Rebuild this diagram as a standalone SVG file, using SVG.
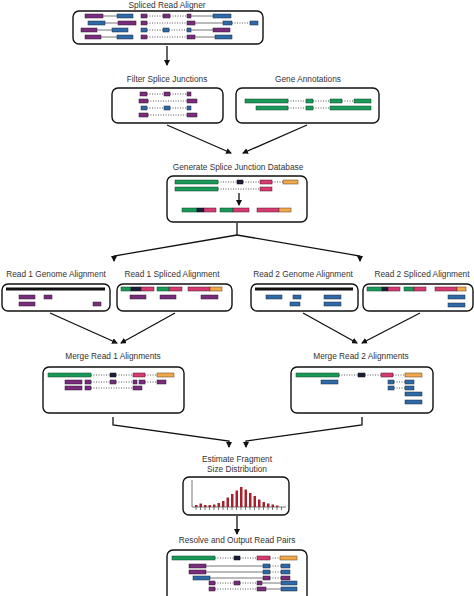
<svg xmlns="http://www.w3.org/2000/svg" width="474" height="596" viewBox="0 0 474 596">
<defs>
<marker id="ah" markerWidth="6" markerHeight="6" refX="5" refY="3" orient="auto" markerUnits="userSpaceOnUse"><path d="M0,0 L6,3 L0,6 z" fill="#111"/></marker>
<style>
text{font-family:"Liberation Sans",Arial,sans-serif;font-size:8.3px;fill:#333;text-anchor:middle}
.box{fill:#fff;stroke:#111;stroke-width:1.4}
.p{fill:#7b2c7f;stroke:#2a1a2a;stroke-width:0.5}
.b{fill:#2f6aa8;stroke:#1a2a3a;stroke-width:0.5}
.g{fill:#199a57;stroke:#14402a;stroke-width:0.5}
.k{fill:#d83a72;stroke:#4a1a2a;stroke-width:0.5}
.o{fill:#f0aa4c;stroke:#5a3a1a;stroke-width:0.5}
.n{fill:#1b1e3c;stroke:#111;stroke-width:0.5}
.ln{stroke:#777;stroke-width:1;fill:none}
.dt{stroke:#555;stroke-width:1;stroke-dasharray:1 1.5;fill:none}
.c{stroke:#111;stroke-width:1.3;fill:none}
.ca{stroke:#111;stroke-width:1.3;fill:none;marker-end:url(#ah)}
.bar{fill:#a8202e}
.ax{stroke:#555;stroke-width:0.8;fill:none}
</style>
</defs>

<g id="connectors">
<line class="ca" x1="167" y1="46" x2="167" y2="65"/>
<line class="ca" x1="167" y1="125" x2="231" y2="153"/>
<line class="ca" x1="307" y1="125" x2="243" y2="153"/>
<polyline class="c" points="237,223 237,235"/>
<polyline class="ca" points="237,235 114,256 114,261"/>
<polyline class="ca" points="237,235 360,256 360,261"/>
<line class="ca" x1="50" y1="313" x2="117" y2="343"/>
<line class="ca" x1="175" y1="313" x2="121" y2="343"/>
<line class="ca" x1="303" y1="313" x2="357" y2="343"/>
<line class="ca" x1="420" y1="313" x2="362" y2="343"/>
<polyline class="ca" points="113,417 113,425 229,441 229,447"/>
<polyline class="ca" points="362,417 362,425 246,441 246,447"/>
<line class="ca" x1="237" y1="516" x2="237" y2="534"/>
</g>

<g id="aligner">
<text x="167" y="8">Spliced Read Aligner</text>
<rect class="box" x="73" y="11" width="190" height="33" rx="6"/>
<path class="ln" d="M103,16H117M191,16H213M105,23H118M195,23H223M97,30H112M191,30H213M101,37H117M195,37H215"/>
<path class="dt" d="M147,16H163M170,16H187M147,23H187M232,23H250M147,30H163M169,30H187M147,37H187"/>
<rect class="p" x="85" y="14" width="18" height="4"/><rect class="b" x="117" y="14" width="16" height="4"/><rect class="p" x="141" y="14" width="6" height="4"/><rect class="p" x="163" y="14" width="7" height="4"/><rect class="p" x="187" y="14" width="4" height="4"/><rect class="b" x="213" y="14" width="18" height="4"/>
<rect class="b" x="88" y="21" width="17" height="4"/><rect class="p" x="118" y="21" width="18" height="4"/><rect class="p" x="141" y="21" width="6" height="4"/><rect class="p" x="187" y="21" width="8" height="4"/><rect class="b" x="223" y="21" width="9" height="4"/><rect class="b" x="250" y="21" width="8" height="4"/>
<rect class="p" x="81" y="28" width="16" height="4"/><rect class="b" x="112" y="28" width="16" height="4"/><rect class="b" x="141" y="28" width="6" height="4"/><rect class="b" x="163" y="28" width="6" height="4"/><rect class="b" x="187" y="28" width="4" height="4"/><rect class="p" x="213" y="28" width="17" height="4"/>
<rect class="p" x="85" y="35" width="16" height="4"/><rect class="b" x="117" y="35" width="16" height="4"/><rect class="p" x="141" y="35" width="6" height="4"/><rect class="p" x="187" y="35" width="8" height="4"/><rect class="b" x="215" y="35" width="17" height="4"/>
</g>

<g id="filter">
<text x="167" y="82">Filter Splice Junctions</text>
<rect class="box" x="112" y="88" width="111" height="35" rx="6"/>
<path class="dt" d="M147,94H164M170,94H187M148,101H187M147,108H164M170,108H187M148,115H187"/>
<rect class="p" x="140" y="92" width="7" height="4"/><rect class="p" x="164" y="92" width="6" height="4"/><rect class="p" x="187" y="92" width="4" height="4"/>
<rect class="p" x="139" y="99" width="9" height="4"/><rect class="p" x="187" y="99" width="10" height="4"/>
<rect class="b" x="141" y="106" width="6" height="4"/><rect class="b" x="164" y="106" width="6" height="4"/><rect class="b" x="187" y="106" width="4" height="4"/>
<rect class="p" x="139" y="113" width="9" height="4"/><rect class="p" x="187" y="113" width="10" height="4"/>
</g>

<g id="annotations">
<text x="308" y="82">Gene Annotations</text>
<rect class="box" x="236" y="88" width="143" height="35" rx="6"/>
<path class="dt" d="M288,101H306M313,101H330M342,101H354M288,108H306M313,108H330"/>
<rect class="g" x="245" y="99" width="43" height="4"/><rect class="g" x="306" y="99" width="7" height="4"/><rect class="g" x="330" y="99" width="12" height="4"/><rect class="g" x="354" y="99" width="17" height="4"/>
<rect class="g" x="256" y="106" width="32" height="4"/><rect class="g" x="306" y="106" width="7" height="4"/><rect class="g" x="330" y="106" width="41" height="4"/>
</g>

<g id="database">
<text x="238" y="170">Generate Splice Junction Database</text>
<rect class="box" x="167" y="176" width="140" height="46" rx="6"/>
<path class="dt" d="M218,182H237M243,182H260M272,182H283M218,189H260"/>
<rect class="g" x="175" y="180" width="43" height="4"/><rect class="n" x="237" y="180" width="6" height="4"/><rect class="k" x="260" y="180" width="12" height="4"/><rect class="o" x="283" y="180" width="15" height="4"/>
<rect class="g" x="175" y="187" width="43" height="4"/><rect class="k" x="260" y="187" width="12" height="4"/>
<line class="ca" x1="239" y1="193" x2="239" y2="205"/>
<rect class="g" x="182" y="208" width="15" height="4"/><rect class="n" x="197" y="208" width="7" height="4"/><rect class="k" x="204" y="208" width="12" height="4"/>
<rect class="g" x="220" y="208" width="13" height="4"/><rect class="k" x="233" y="208" width="16" height="4"/>
<rect class="k" x="257" y="208" width="22" height="4"/><rect class="o" x="279" y="208" width="12" height="4"/>
</g>

<g id="r1genome">
<text x="56" y="277">Read 1 Genome Alignment</text>
<rect class="box" x="2" y="284" width="108" height="27" rx="6"/>
<rect x="6" y="287.5" width="99" height="3" fill="#111"/>
<rect class="p" x="19" y="295" width="16" height="4"/><rect class="p" x="44" y="295" width="8" height="4"/>
<rect class="p" x="19" y="302" width="16" height="4"/><rect class="p" x="93" y="302" width="8" height="4"/>
</g>

<g id="r1spliced">
<text x="172" y="277">Read 1 Spliced Alignment</text>
<rect class="box" x="117" y="284" width="115" height="27" rx="6"/>
<rect class="g" x="121" y="287" width="10" height="4"/><rect class="n" x="131" y="287" width="10" height="4"/><rect class="k" x="141" y="287" width="13" height="4"/>
<rect class="g" x="157" y="287" width="12" height="4"/><rect class="k" x="169" y="287" width="13" height="4"/>
<rect class="k" x="188" y="287" width="22" height="4"/><rect class="o" x="210" y="287" width="12" height="4"/>
<rect class="p" x="130" y="295" width="16" height="4"/><rect class="p" x="160" y="295" width="16" height="4"/><rect class="p" x="201" y="295" width="17" height="4"/>
</g>

<g id="r2genome">
<text x="303" y="277">Read 2 Genome Alignment</text>
<rect class="box" x="251" y="284" width="107" height="27" rx="6"/>
<rect x="255" y="287.5" width="98" height="3" fill="#111"/>
<rect class="b" x="266" y="295" width="16" height="4"/><rect class="b" x="293" y="295" width="8" height="4"/><rect class="b" x="324" y="295" width="17" height="4"/>
<rect class="b" x="290" y="302" width="10" height="4"/><rect class="b" x="324" y="302" width="17" height="4"/>
</g>

<g id="r2spliced">
<text x="422" y="277">Read 2 Spliced Alignment</text>
<rect class="box" x="363" y="284" width="110" height="27" rx="6"/>
<rect class="g" x="367" y="287" width="15" height="4"/><rect class="n" x="382" y="287" width="6" height="4"/><rect class="k" x="388" y="287" width="12" height="4"/>
<rect class="g" x="404" y="287" width="10" height="4"/><rect class="k" x="414" y="287" width="12" height="4"/>
<rect class="k" x="435" y="287" width="22" height="4"/><rect class="o" x="457" y="287" width="9" height="4"/>
<rect class="b" x="448" y="295" width="17" height="4"/><rect class="b" x="448" y="303" width="17" height="4"/>
</g>

<g id="merge1">
<text x="113" y="359">Merge Read 1 Alignments</text>
<rect class="box" x="43" y="367" width="141" height="46" rx="6"/>
<path class="dt" d="M91,375H110M116,375H133M145,375H157M91,382H110M116,382H133M145,382H157M91,388H133"/>
<rect class="g" x="48" y="373" width="43" height="4"/><rect class="n" x="110" y="373" width="6" height="4"/><rect class="k" x="133" y="373" width="12" height="4"/><rect class="o" x="157" y="373" width="17" height="4"/>
<rect class="p" x="65" y="380" width="17" height="4"/><rect class="p" x="85" y="380" width="6" height="4"/><rect class="p" x="110" y="380" width="6" height="4"/><rect class="p" x="133" y="380" width="4" height="4"/><rect class="p" x="139" y="380" width="6" height="4"/><rect class="p" x="157" y="380" width="9" height="4"/>
<rect class="p" x="65" y="386" width="17" height="4"/><rect class="p" x="85" y="386" width="6" height="4"/><rect class="p" x="133" y="386" width="9" height="4"/>
</g>

<g id="merge2">
<text x="361" y="359">Merge Read 2 Alignments</text>
<rect class="box" x="291" y="367" width="142" height="46" rx="6"/>
<path class="dt" d="M339,375H358M365,375H381M393,375H405M394,382H405M394,388H405"/>
<rect class="g" x="296" y="373" width="43" height="4"/><rect class="n" x="358" y="373" width="7" height="4"/><rect class="k" x="381" y="373" width="12" height="4"/><rect class="o" x="405" y="373" width="17" height="4"/>
<rect class="b" x="321" y="380" width="17" height="4"/><rect class="b" x="388" y="380" width="6" height="4"/><rect class="b" x="405" y="380" width="9" height="4"/>
<rect class="b" x="388" y="386" width="6" height="4"/><rect class="b" x="405" y="386" width="9" height="4"/>
<rect class="b" x="405" y="392" width="17" height="4"/><rect class="b" x="405" y="400" width="17" height="4"/>
</g>

<g id="estimate">
<text x="237" y="462">Estimate Fragment</text>
<text x="237" y="472">Size Distribution</text>
<rect class="box" x="183" y="477" width="106" height="38" rx="6"/>
<path class="ax" d="M192,480V507H286"/>
<path class="ax" d="M196,507v3M200.5,507v3M205,507v3M209.5,507v3M214,507v3M218.5,507v3M223,507v3M227.5,507v3M232,507v3M236.5,507v3M241,507v3M245.5,507v3M250,507v3M254.5,507v3M259,507v3M263.5,507v3M268,507v3M272.5,507v3M277,507v3M281.5,507v3"/>
<rect class="bar" x="195" y="505" width="2.5" height="2"/>
<rect class="bar" x="199.5" y="503.5" width="2.5" height="3.5"/>
<rect class="bar" x="204" y="505" width="2.5" height="2"/>
<rect class="bar" x="208.5" y="505" width="2.5" height="2"/>
<rect class="bar" x="213" y="504.5" width="2.5" height="2.5"/>
<rect class="bar" x="217.5" y="503" width="2.5" height="4"/>
<rect class="bar" x="222" y="501" width="2.5" height="6"/>
<rect class="bar" x="226.5" y="497.5" width="2.5" height="9.5"/>
<rect class="bar" x="231" y="494" width="2.5" height="13"/>
<rect class="bar" x="235.5" y="490.5" width="2.5" height="16.5"/>
<rect class="bar" x="240" y="487" width="2.5" height="20"/>
<rect class="bar" x="244.5" y="489.5" width="2.5" height="17.5"/>
<rect class="bar" x="249" y="493" width="2.5" height="14"/>
<rect class="bar" x="253.5" y="496" width="2.5" height="11"/>
<rect class="bar" x="258" y="499.5" width="2.5" height="7.5"/>
<rect class="bar" x="262.5" y="502" width="2.5" height="5"/>
<rect class="bar" x="267" y="503.5" width="2.5" height="3.5"/>
<rect class="bar" x="271.5" y="504.5" width="2.5" height="2.5"/>
<rect class="bar" x="276" y="505.5" width="2.5" height="1.5"/>
</g>

<g id="resolve">
<text x="237" y="543">Resolve and Output Read Pairs</text>
<rect class="box" x="167" y="550" width="140" height="52" rx="6"/>
<path class="dt" d="M215,558H234M240,558H257M270,558H280M270,566H281M270,572H281M270,578H281M215,583H234M240,583H257M215,589H257"/>
<path class="ln" d="M206,566H263M206,572H263M210,578H263M262,583H281M266,589H281"/>
<rect class="g" x="172" y="556" width="43" height="4"/><rect class="n" x="234" y="556" width="6" height="4"/><rect class="k" x="257" y="556" width="13" height="4"/><rect class="o" x="280" y="556" width="17" height="4"/>
<rect class="p" x="189" y="564" width="17" height="4"/><rect class="b" x="263" y="564" width="7" height="4"/><rect class="b" x="281" y="564" width="9" height="4"/>
<rect class="p" x="189" y="570" width="17" height="4"/><rect class="b" x="263" y="570" width="7" height="4"/><rect class="b" x="281" y="570" width="9" height="4"/>
<rect class="b" x="193" y="576" width="17" height="4"/><rect class="p" x="263" y="576" width="7" height="4"/><rect class="p" x="281" y="576" width="9" height="4"/>
<rect class="p" x="209" y="581" width="6" height="4"/><rect class="p" x="234" y="581" width="6" height="4"/><rect class="p" x="257" y="581" width="5" height="4"/><rect class="b" x="281" y="581" width="16" height="4"/>
<rect class="p" x="209" y="587" width="6" height="4"/><rect class="p" x="257" y="587" width="9" height="4"/><rect class="b" x="281" y="587" width="16" height="4"/>
</g>
</svg>
